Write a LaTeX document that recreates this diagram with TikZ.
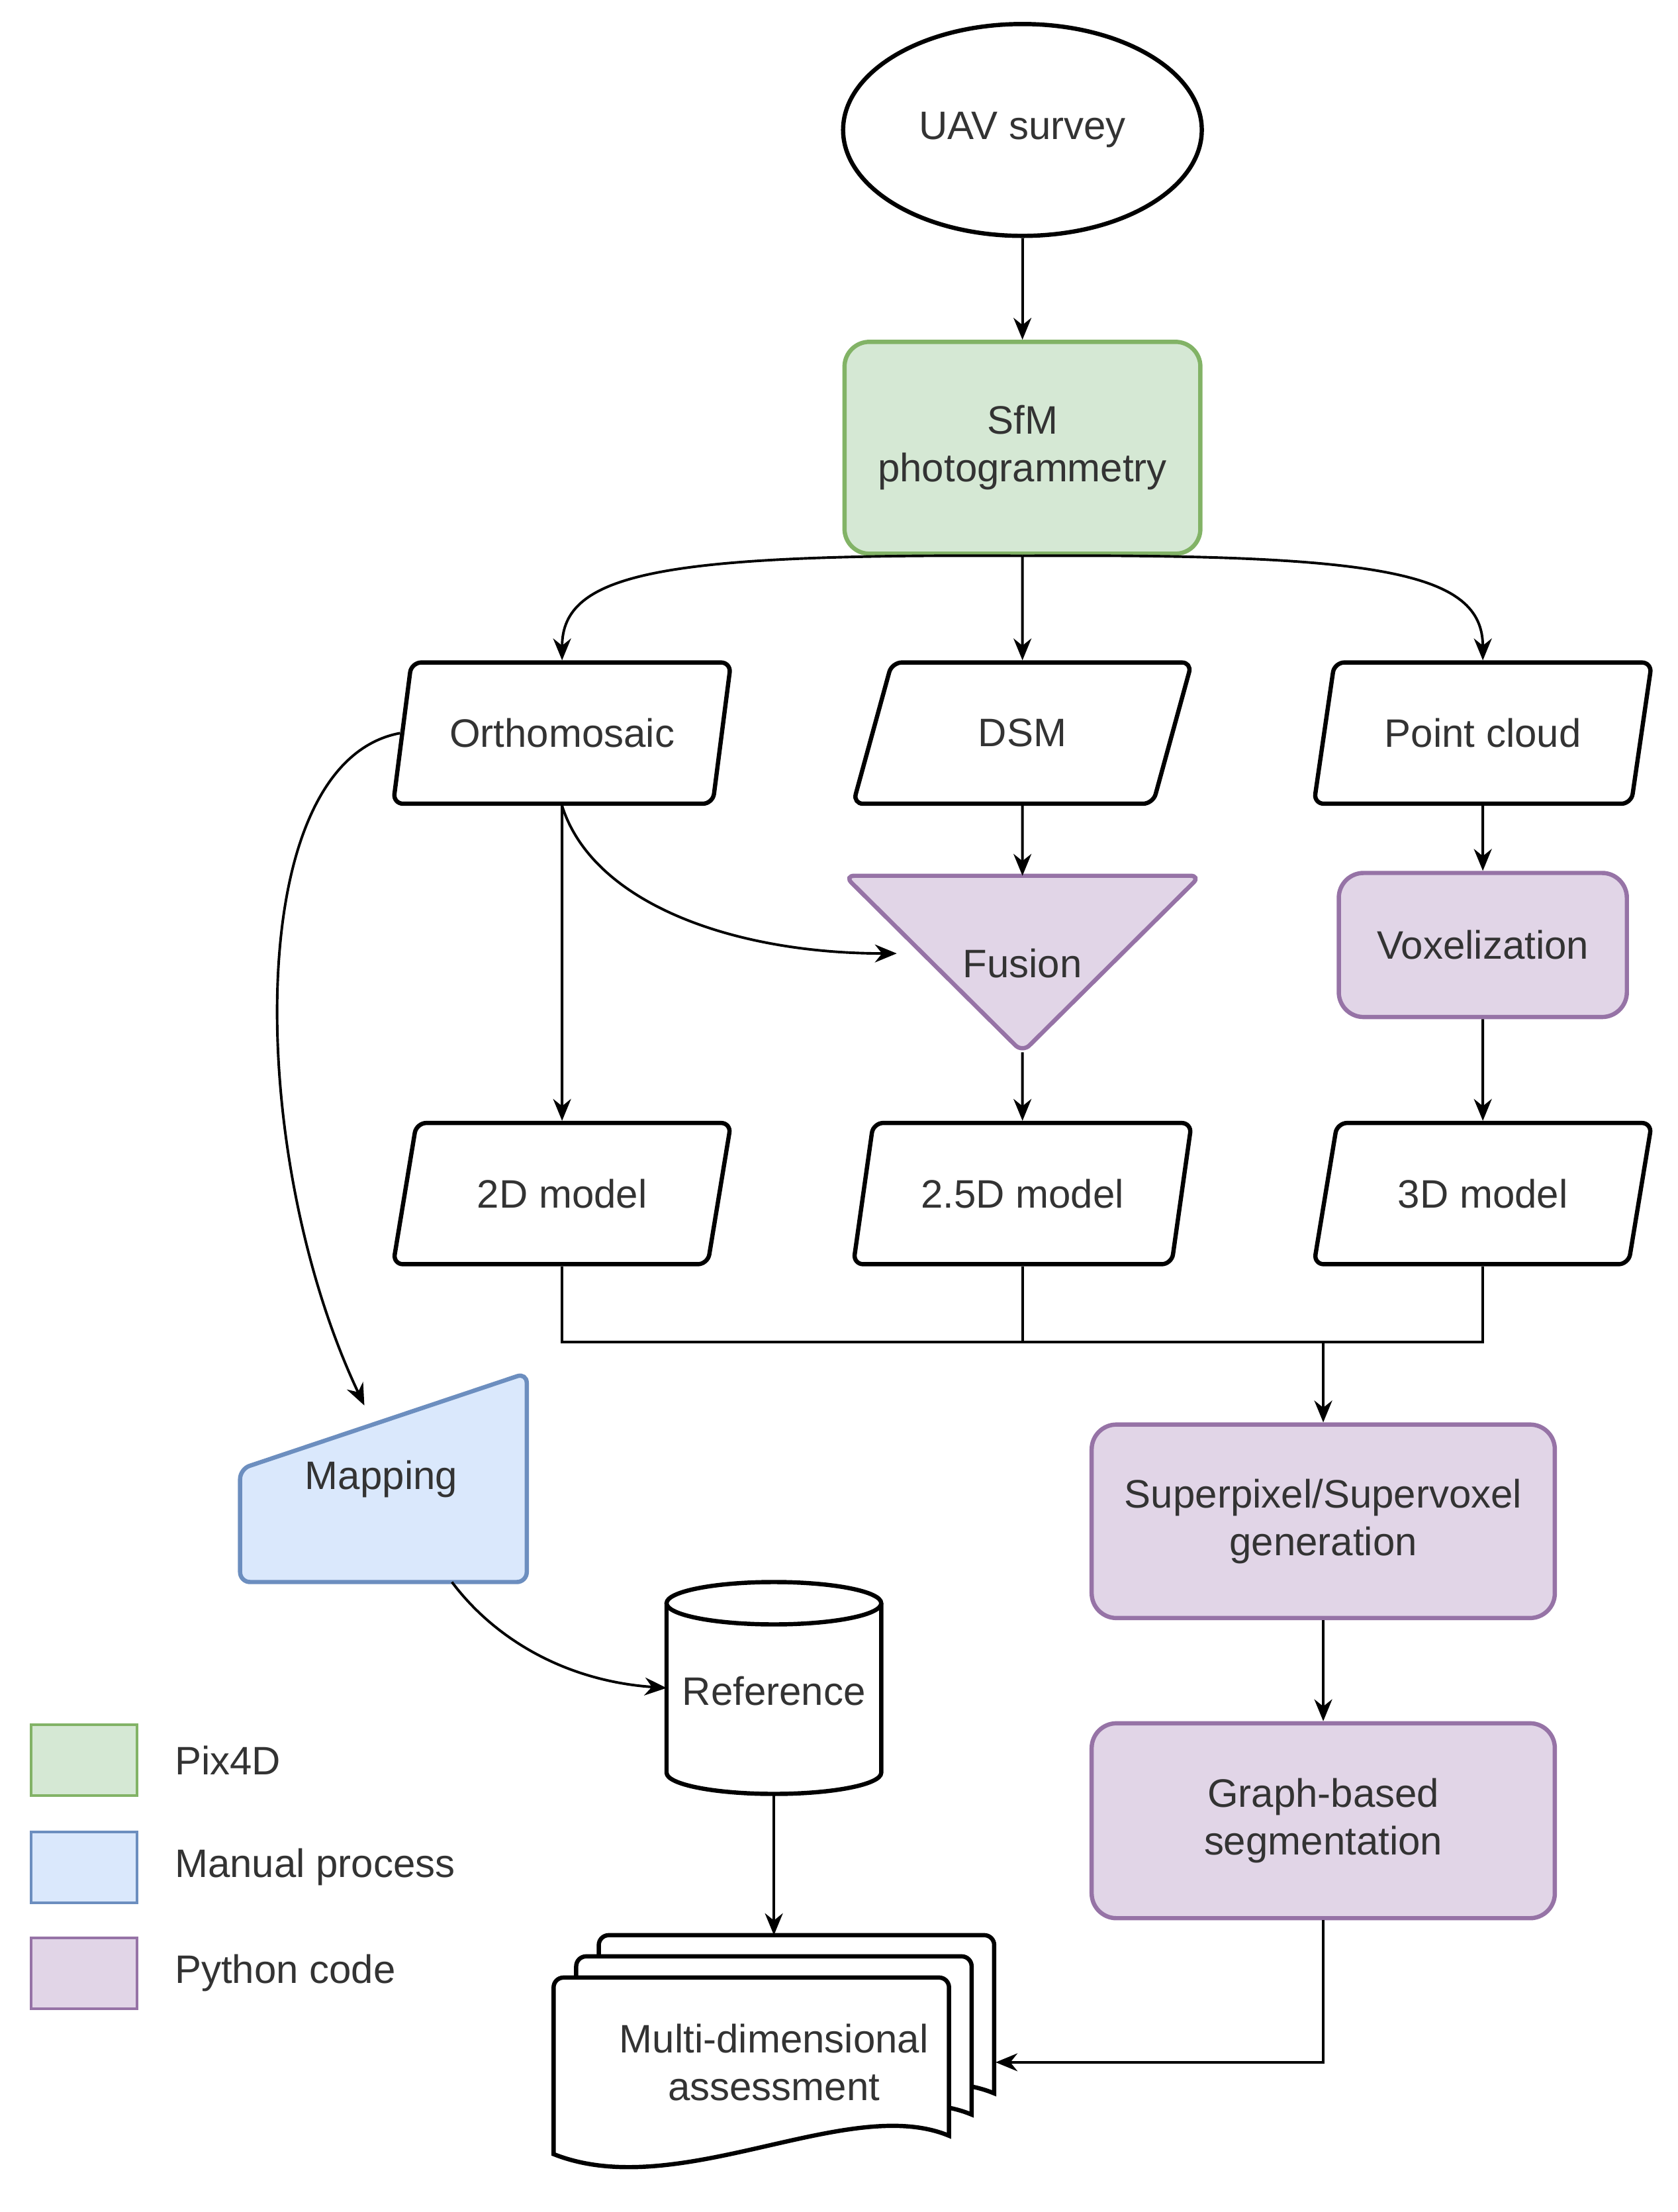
\documentclass[tikz,border=0pt]{standalone}
\usepackage{fontspec}
\setmainfont{Liberation Sans}
\usetikzlibrary{shapes.geometric,arrows.meta}
\definecolor{gfill}{HTML}{D5E8D4}\definecolor{gline}{HTML}{82B366}
\definecolor{bfill}{HTML}{DAE8FC}\definecolor{bline}{HTML}{6C8EBF}
\definecolor{pfill}{HTML}{E1D5E7}\definecolor{pline}{HTML}{9673A6}
\definecolor{txt}{HTML}{333333}
\begin{document}
\begin{tikzpicture}[x=0.05cm,y=-0.05cm,line width=4.3pt,
  every node/.style={font=\fontsize{40}{48}\selectfont,text=txt,align=center},
  arr/.style={-{Stealth[length=22pt,width=18pt]},line width=2.6pt},
  para/.style={trapezium,trapezium left angle=65,trapezium right angle=115,trapezium stretches=true,
    minimum width=12cm,minimum height=5cm,draw,rounded corners=10pt,inner sep=0pt},
  box/.style={draw,rounded corners=25pt,inner sep=0pt},
  leg/.style={draw,line width=2.6pt,minimum width=3.75cm,minimum height=2.5cm,inner sep=0pt}]
\useasboundingbox (0,0) rectangle (1188,1566);
\node[ellipse,draw,minimum width=12.7cm,minimum height=7.5cm] (uav) at (724,92) {UAV survey};
\node[box,fill=gfill,draw=gline,minimum width=12.6cm,minimum height=7.5cm] (sfm) at (724,317) {SfM\\photogrammetry};
\node[para] (ortho) at (398,519) {Orthomosaic};
\node[para] (dsm) at (724,519) {DSM};
\node[para] (pc) at (1050,519) {Point cloud};
\node[para] (m2) at (398,845) {2D model};
\node[para] (m25) at (724,845) {2.5D model};
\node[para] (m3) at (1050,845) {3D model};
\draw[fill=pfill,draw=pline,rounded corners=10pt] (598,620) -- (850,620) -- (724,745) -- cycle;
\node (fusion) at (724,682) {Fusion};
\coordinate (ftop) at (724,620); \coordinate (fbot) at (724,745); \coordinate (fleft) at (635,675);
\node[box,fill=pfill,draw=pline,minimum width=10.2cm,minimum height=5.1cm] (vox) at (1050,669) {Voxelization};
\node[box,fill=pfill,draw=pline,minimum width=16.4cm,minimum height=6.85cm] (sp) at (937,1077) {Superpixel/Supervoxel\\generation};
\node[box,fill=pfill,draw=pline,minimum width=16.4cm,minimum height=6.9cm] (gb) at (937,1289) {Graph-based\\segmentation};
\draw[fill=bfill,draw=bline,rounded corners=10pt] (170,1040) -- (373,972) -- (373,1120) -- (170,1120) -- cycle;
\node (map) at (270,1047) {Mapping};
\coordinate (maptop) at (258,995); \coordinate (mapbot) at (320,1120);
% cylinder
\draw[fill=white] (472,1135) -- (472,1255) arc[start angle=180,end angle=360,x radius=76,y radius=-15] -- (624,1135);
\draw (548,1135) ellipse[x radius=76,y radius=15];
\node (ref) at (548,1197) {Reference};
\coordinate (refleft) at (472,1195); \coordinate (refbot) at (548,1270);
% documents
\foreach \dx/\dy in {32/-30,16/-15,0/0}{
\draw[fill=white,rounded corners=10pt,shift={(\dx,\dy)}] (392,1525) -- (392,1400) -- (672,1400) [sharp corners]-- (672,1512)
  .. controls (600,1482) and (480,1560) .. (392,1525) -- cycle;}
\node (multi) at (548,1460) {Multi-dimensional\\assessment};
\coordinate (multitop) at (548,1370); \coordinate (multiright) at (705,1460);
% legend
\node[leg,fill=gfill,draw=gline] (l1) at (59.5,1246) {};
\node[leg,fill=bfill,draw=bline] (l2) at (59.5,1322) {};
\node[leg,fill=pfill,draw=pline] (l3) at (59.5,1397) {};
\node[anchor=west] (t1) at (120,1246) {Pix4D};
\node[anchor=west] (t2) at (120,1322) {Manual process};
\node[anchor=west] (t3) at (120,1397) {Python code};
% edges
\draw[arr] (uav) -- (sfm);
\draw[arr] (sfm.south) .. controls (470,392) and (398,405) .. (ortho.north);
\draw[arr] (sfm.south) .. controls (978,392) and (1050,405) .. (pc.north);
\draw[arr] (sfm) -- (dsm);
\draw[arr] (ortho.west) .. controls (170,540) and (175,820) .. (maptop);
\draw[arr] (ortho) -- (m2);
\draw[arr] (ortho.south) .. controls (420,640) and (520,675) .. (fleft);
\draw[arr] (dsm) -- (ftop);
\draw[arr] (fbot) -- (m25);
\draw[arr] (pc) -- (vox);
\draw[arr] (vox) -- (m3);
\draw[line width=2.6pt] (m2.south) |- (m3.south |- 0,950) -- (m3.south);
\draw[line width=2.6pt] (m25.south) -- (m25.south |- 0,950);
\draw[arr] (sp.north |- 0,950) -- (sp.north);
\draw[arr] (sp) -- (gb);
\draw[arr] (gb.south) |- (multiright);
\draw[arr] (mapbot) .. controls (350,1160) and (400,1190) .. (refleft);
\draw[arr] (refbot) -- (multitop);
\end{tikzpicture}
\end{document}
